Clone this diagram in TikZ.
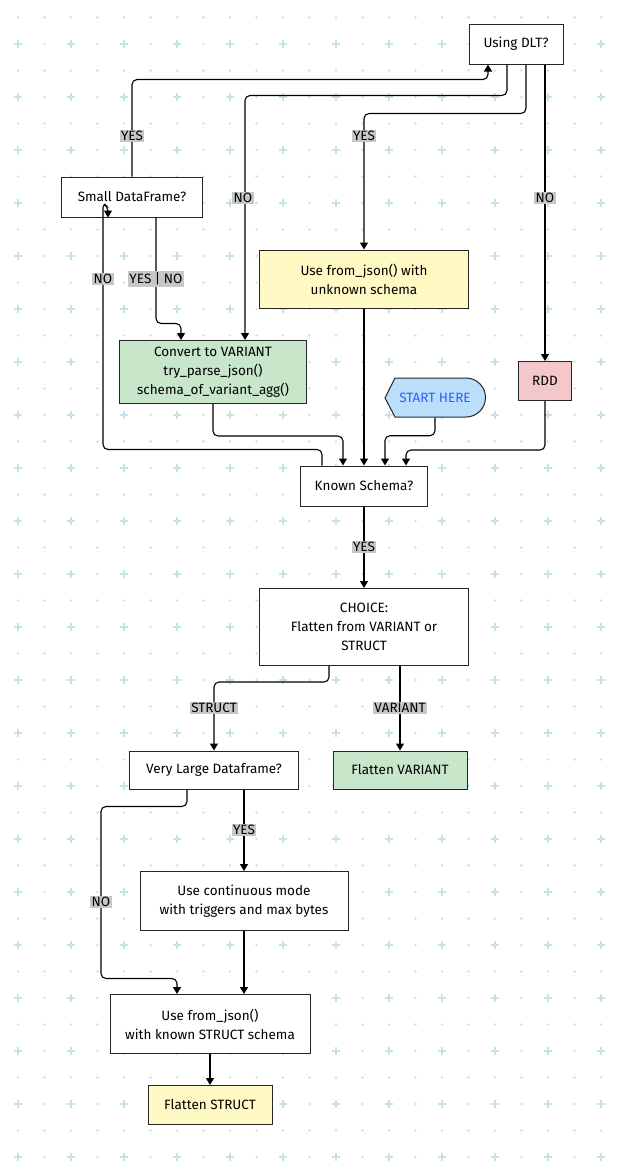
\documentclass[tikz,border=0pt]{standalone}
\usepackage{fontspec}
\setmainfont{Fira Sans}
\usetikzlibrary{arrows.meta}

\definecolor{gridc}{RGB}{200,228,224}
\definecolor{yel}{RGB}{255,249,196}
\definecolor{grn}{RGB}{200,230,201}
\definecolor{pnk}{RGB}{244,199,203}
\definecolor{blu}{RGB}{187,222,251}
\definecolor{bluetxt}{RGB}{41,98,255}

\tikzset{
  box/.style={draw=black!85, line width=1pt, align=center, font=\fontsize{13.5}{19}\selectfont, inner sep=0pt},
  flow/.style={line width=1.1pt, rounded corners=5pt, -{Triangle[length=7pt,width=8pt]}},
  lbl/.style={fill=black!22, inner sep=1.5pt, font=\fontsize{13.5}{15}\selectfont}
}

\begin{document}
\begin{tikzpicture}[x=1pt, y=-1pt]
    \useasboundingbox (0,0) rectangle (620,1167);

    % background grid
    \foreach \i in {0,...,11} {
      \foreach \j in {0,...,22} {
        \draw[gridc, line width=1.2pt] (18+53*\i-4, 44+53*\j) -- ++(8,0) (18+53*\i, 44+53*\j-4) -- ++(0,8);
        \fill[gridc] (44.5+53*\i, 44+53*\j) circle (1.3);
        \fill[gridc] (18+53*\i, 17.5+53*\j) circle (1.3);
        \fill[gridc] (44.5+53*\i, 17.5+53*\j) circle (1.3);
      }
    }

    % nodes
    \node[box, fill=white, minimum width=94, minimum height=40] (dlt) at (516,44) {Using DLT?};
    \node[box, fill=white, minimum width=141, minimum height=40] (sdf) at (132,197) {Small DataFrame?};
    \node[box, fill=yel, minimum width=209, minimum height=58] (unk) at (364,279) {Use from\_json() with\\unknown schema};
    \node[box, fill=grn, minimum width=187, minimum height=63] (cnv) at (213,372) {Convert to VARIANT\\try\_parse\_json()\\schema\_of\_variant\_agg()};
    \node[box, fill=pnk, minimum width=53, minimum height=39] (rdd) at (545,381) {RDD};
    \filldraw[fill=blu, draw=black!85, line width=1pt] (385,398) -- (395,378) -- (466,378) arc[start angle=270, end angle=450, radius=19.5] -- (395,417) -- cycle;
    \node[font=\fontsize{13.5}{15}\selectfont, text=bluetxt, minimum height=39, inner sep=0pt] (start) at (435,398) {START HERE};
    \node[box, fill=white, minimum width=127, minimum height=40] (ks) at (364,486) {Known Schema?};
    \node[box, fill=white, minimum width=209, minimum height=77] (ch) at (364,627) {CHOICE:\\Flatten from VARIANT or\\STRUCT};
    \node[box, fill=white, minimum width=169, minimum height=38] (vl) at (214,770) {Very Large Dataframe?};
    \node[box, fill=grn, minimum width=134, minimum height=38] (fv) at (400,770) {Flatten VARIANT};
    \node[box, fill=white, minimum width=208, minimum height=59] (cm) at (244,901) {Use continuous mode\\with triggers and max bytes};
    \node[box, fill=white, minimum width=200, minimum height=59] (uk) at (210,1024) {Use from\_json()\\with known STRUCT schema};
    \node[box, fill=yel, minimum width=124, minimum height=39] (fs) at (210,1105) {Flatten STRUCT};

    % connectors
    \draw[flow] (sdf.north) -- ++(0,-97) -| ([xshift=-28]dlt.south);
    \draw[flow] ([xshift=-9]dlt.south) -- ++(0,31) -| ([xshift=32]cnv.north);
    \draw[flow] ([xshift=10]dlt.south) -- ++(0,49) -| (unk.north);
    \draw[flow] ([xshift=29]dlt.south) -- (rdd.north);
    \draw[flow] ([xshift=24]sdf.south) -- ++(0,106) -| ([xshift=-32]cnv.north);
    \draw[flow] ([xshift=-42]ks.north) -- ++(0,-16) -| ([xshift=-29,yshift=15]sdf.south) -- ([xshift=-24,yshift=10]sdf.south) -- ([xshift=-24]sdf.south);
    \draw[flow] (cnv.south) -- ++(0,32) -| ([xshift=-21]ks.north);
    \draw[flow] (unk.south) -- (ks.north);
    \draw[flow] (start.south) -- ++(0,18) -| ([xshift=21]ks.north);
    \draw[flow] (rdd.south) -- ++(0,49) -| ([xshift=42]ks.north);
    \draw[flow] (ks.south) -- (ch.north);
    \draw[flow] ([xshift=-35]ch.south) -- ++(0,16) -| (vl.north);
    \draw[flow] ([xshift=36]ch.south) -- (fv.north);
    \draw[flow] ([xshift=30]vl.south) -- (cm.north);
    \draw[flow] ([xshift=-27]vl.south) -- ++(0,17) -| ++(-86,172) -| ([xshift=-33]uk.north);
    \draw[flow] (cm.south) -- ([xshift=34]uk.north);
    \draw[flow] (uk.south) -- (fs.north);

    % labels
    \node[lbl] (l1) at (132,136) {YES};
    \node[lbl] (l2) at (243,198) {NO};
    \node[lbl] (l3) at (364,136) {YES};
    \node[lbl] (l4) at (545,198) {NO};
    \node[lbl] (l5) at (156,279) {YES | NO};
    \node[lbl] (l6) at (103,279) {NO};
    \node[lbl] (l7) at (364,547) {YES};
    \node[lbl] (l8) at (214,708) {STRUCT};
    \node[lbl] (l9) at (400,708) {VARIANT};
    \node[lbl] (l10) at (244,830) {YES};
    \node[lbl] (l11) at (101,902) {NO};
\end{tikzpicture}
\end{document}
